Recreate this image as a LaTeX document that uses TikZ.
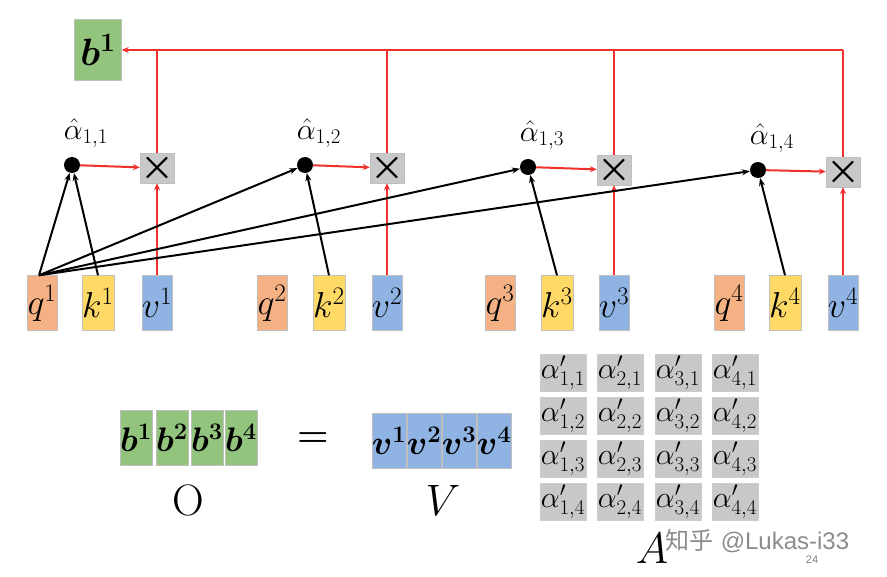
\documentclass[tikz,border=0pt]{standalone}
\usepackage{fix-cm}
\usepackage{bm}
\usepackage{fontspec}
\newfontfamily\cjk{Noto Sans CJK SC}
\newfontfamily\wm{Liberation Sans}
\usetikzlibrary{arrows.meta}
\definecolor{qc}{HTML}{F4B183}
\definecolor{kc}{HTML}{FFD966}
\definecolor{vc}{HTML}{8FB4E3}
\definecolor{gc}{HTML}{93C47D}
\definecolor{xc}{HTML}{C8C8C8}
\definecolor{rc}{HTML}{F0302A}
\begin{document}
\begin{tikzpicture}[x=1pt,y=-1pt,
 box/.style={draw=black!25,minimum width=30pt,minimum height=55pt,inner sep=0pt,font=\fontsize{36}{36}\selectfont},
 sb/.style={draw=black!25,minimum height=55pt,inner sep=0pt,font=\fontsize{34}{34}\selectfont},
 mul/.style={fill=xc,draw=black!25,minimum width=30pt,minimum height=30pt,inner sep=0pt,font=\fontsize{38}{38}\selectfont},
 dot/.style={circle,fill=black,minimum size=16pt,inner sep=0pt},
 red/.style={draw=rc,line width=2pt,-{Stealth[length=7pt,width=6pt]}},
 blk/.style={draw=black,line width=2pt,-{Stealth[length=8pt,width=6pt]}},
 cell/.style={fill=xc,draw=black!20,minimum width=46pt,minimum height=37pt,inner sep=0pt,font=\fontsize{30}{30}\selectfont},
 lbl/.style={font=\fontsize{30}{30}\selectfont,inner sep=1pt}]
\useasboundingbox (0,0) rectangle (887,577);
\node[box,fill=gc,minimum width=47pt,minimum height=61pt,font=\fontsize{38}{38}\selectfont] (b1) at (98,50) {$\bm{b}^{\bm 1}$};
\foreach \i/\xq/\xk/\xv/\xd/\yd/\yx in {1/42/98/157/72/165/168,2/272/329/387/305/165/168,3/500/557/614/528/167/170,4/729/785/843/758/170/172}{
 \node[box,fill=qc] (q\i) at (\xq,303) {$q^{\i}$};
 \node[box,fill=kc] (k\i) at (\xk,303) {$k^{\i}$};
 \node[box,fill=vc] (v\i) at (\xv,303) {$v^{\i}$};
 \node[dot] (d\i) at (\xd,\yd) {};
 \node[lbl] (l\i) at (\xd+14,\yd-32) {$\hat\alpha_{1,\i}$};
 \node[mul] (m\i) at (\xv,\yx) {$\bm\times$};
 \coordinate (t\i) at (\xv,50);
 \draw[red] (d\i) -- (m\i);
 \draw[red] (v\i) -- (m\i);
 \draw[draw=rc,line width=2pt] (m\i) -- (t\i);
 \draw[blk] (k\i.north) -- (d\i);
 \draw[blk] ([xshift=-3pt]q1.north) -- (d\i);
}
\draw[red] (t4) -- (b1);
% bottom
\foreach \i/\x in {1/136,2/172,3/207,4/241}
 \node[sb,fill=gc,minimum width=30pt] (ob\i) at (\x,438) {$\bm{b}^{\bm\i}$};
\node[font=\fontsize{36}{36}\selectfont\bfseries] (eq) at (313,440) {=};
\foreach \i/\x in {1/389,2/424,3/459,4/494}
 \node[sb,fill=vc,minimum width=32pt] (ov\i) at (\x,441) {$\bm{v}^{\bm\i}$};
\node[font=\fontsize{44}{44}\selectfont] (O) at (188,500) {O};
\node[font=\fontsize{44}{44}\selectfont] (V) at (443,500) {$V$};
\foreach \c/\x in {1/563,2/620,3/678,4/735}
 \foreach \r/\y in {1/373,2/416,3/459,4/502}
  \node[cell] (a\c\r) at (\x,\y) {$\alpha'_{\c,\r}$};
\node[font=\fontsize{44}{44}\selectfont] (A) at (652,548) {$A$};
\node[text=black!45,font=\fontsize{24}{24}\selectfont,anchor=west] (wm) at (662,541) {{\cjk 知乎} {\wm @Lukas-i33}};
\node[text=black!50,font=\fontsize{11}{11}\selectfont\wm] (pg) at (812,560) {24};
\end{tikzpicture}
\end{document}
